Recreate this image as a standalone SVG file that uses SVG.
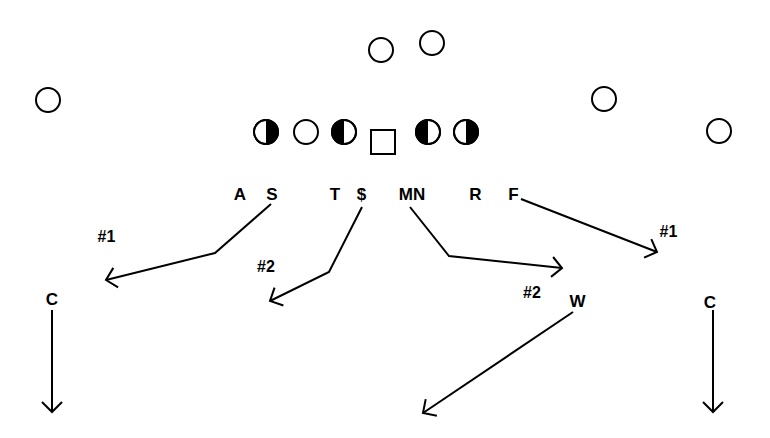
<svg xmlns="http://www.w3.org/2000/svg" width="770" height="438" viewBox="0 0 770 438">
<style>
.p{fill:#fff;stroke:#000;stroke-width:2}
.h{fill:#000;stroke:none}
.t{font-family:"Liberation Sans Narrow","Liberation Sans",Arial,sans-serif;font-weight:bold;font-size:17px;fill:#000;text-anchor:middle}
.n{font-family:"Liberation Sans Narrow","Liberation Sans",Arial,sans-serif;font-weight:bold;font-size:16px;fill:#000;text-anchor:middle}
.r{fill:none;stroke:#000;stroke-width:2;stroke-linejoin:miter}
</style>
<defs>
<marker id="ah" markerUnits="userSpaceOnUse" viewBox="-12 -12 14 24" markerWidth="14" markerHeight="24" refX="0" refY="0" orient="auto">
<path d="M-10,-10 L0,0 L-10,10" fill="none" stroke="#000" stroke-width="2"/>
</marker>
</defs>
<rect width="770" height="438" fill="#fff"/>
<g id="offense">
<g id="o-qb1"><circle class="p" cx="381" cy="50" r="12"/></g>
<g id="o-qb2"><circle class="p" cx="432" cy="43" r="12"/></g>
<g id="o-wr-left"><circle class="p" cx="48" cy="100" r="12"/></g>
<g id="o-wr-right1"><circle class="p" cx="604" cy="99" r="12"/></g>
<g id="o-wr-right2"><circle class="p" cx="719" cy="131" r="12"/></g>
<g id="o-lt"><circle class="p" cx="266" cy="132" r="12"/><path class="h" d="M266,120 A12,12 0 0 1 266,144 Z"/><circle cx="266" cy="132" r="12" fill="none" stroke="#000" stroke-width="2"/></g>
<g id="o-te"><circle class="p" cx="306" cy="132" r="12"/></g>
<g id="o-lg"><circle class="p" cx="344" cy="132" r="12"/><path class="h" d="M344,120 A12,12 0 0 0 344,144 Z"/><circle cx="344" cy="132" r="12" fill="none" stroke="#000" stroke-width="2"/></g>
<g id="o-center"><rect class="p" x="371" y="130" width="24" height="24"/></g>
<g id="o-rg"><circle class="p" cx="428" cy="132" r="12"/><path class="h" d="M428,120 A12,12 0 0 0 428,144 Z"/><circle cx="428" cy="132" r="12" fill="none" stroke="#000" stroke-width="2"/></g>
<g id="o-rt"><circle class="p" cx="466" cy="132" r="12"/><path class="h" d="M466,120 A12,12 0 0 1 466,144 Z"/><circle cx="466" cy="132" r="12" fill="none" stroke="#000" stroke-width="2"/></g>
</g>
<g id="defense">
<g id="d-A"><text class="t" x="240" y="200">A</text></g>
<g id="d-S"><text class="t" x="272" y="200">S</text></g>
<g id="d-T"><text class="t" x="335" y="200">T</text></g>
<g id="d-dollar"><text class="t" x="361.5" y="200">$</text></g>
<g id="d-MN"><text class="t" x="412" y="200">MN</text></g>
<g id="d-R"><text class="t" x="475.5" y="200">R</text></g>
<g id="d-F"><text class="t" x="513.5" y="200">F</text></g>
<g id="d-W"><text class="t" x="577.5" y="307">W</text></g>
<g id="d-C-left"><text class="t" x="52" y="305">C</text></g>
<g id="d-C-right"><text class="t" x="710" y="308">C</text></g>
</g>
<g id="labels">
<text class="n" x="106.5" y="242">#1</text>
<text class="n" x="266" y="272">#2</text>
<text class="n" x="668.5" y="237">#1</text>
<text class="n" x="532" y="298">#2</text>
</g>
<g id="connectors">
<polyline class="r" points="271,204 215,253 106,280" marker-end="url(#ah)"/>
<polyline class="r" points="362,207 329,272 270,301" marker-end="url(#ah)"/>
<polyline class="r" points="410,207 449,256 562,268" marker-end="url(#ah)"/>
<polyline class="r" points="521,199 657,252" marker-end="url(#ah)"/>
<polyline class="r" points="573,312 423,413" marker-end="url(#ah)"/>
<polyline class="r" points="52,310 52,412" marker-end="url(#ah)"/>
<polyline class="r" points="713,310 713,412" marker-end="url(#ah)"/>
</g>
</svg>
